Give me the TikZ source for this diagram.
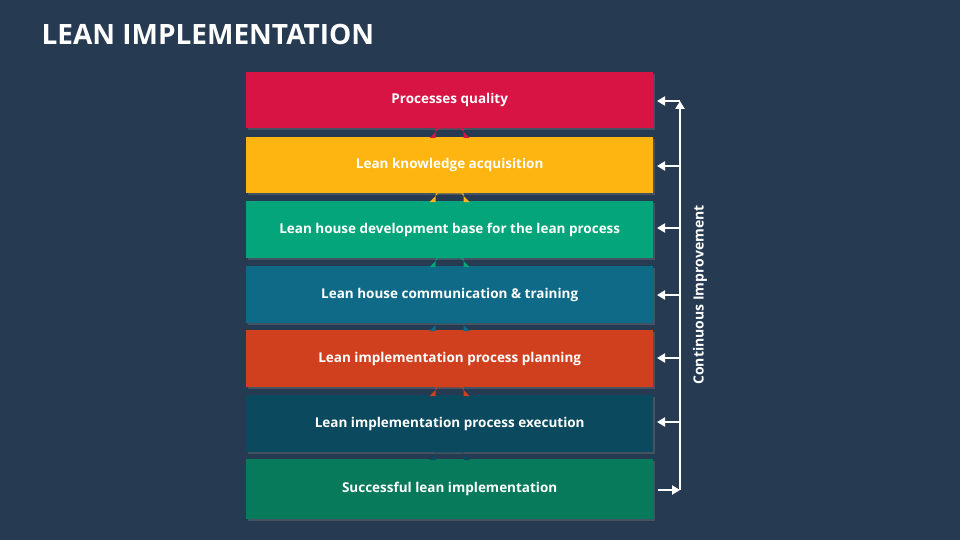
\documentclass[tikz,border=0pt]{standalone}
\usepackage{fontspec}
\setmainfont{Open Sans}
\usetikzlibrary{arrows.meta,shadows}
\definecolor{bg}{HTML}{263A52}
\definecolor{c1}{HTML}{D81444}
\definecolor{c2}{HTML}{FFB511}
\definecolor{c3}{HTML}{04A57A}
\definecolor{c4}{HTML}{0E6A87}
\definecolor{c5}{HTML}{D0401E}
\definecolor{c6}{HTML}{0B4A5E}
\definecolor{c7}{HTML}{087A5C}
\begin{document}
\begin{tikzpicture}[x=1pt,y=-1pt,
  barbox/.style={minimum width=407pt,inner sep=0pt,anchor=north west,text=white,font=\fontsize{13.5}{16}\selectfont\bfseries,drop shadow={shadow xshift=2pt,shadow yshift=-2pt,opacity=0.35}},
  wl/.style={white,line width=2.5pt},
  tip/.style={-{Triangle[length=8pt,width=9pt]}}]
\fill[bg] (0,0) rectangle (960,540);
\useasboundingbox (0,0) rectangle (960,540);
\node[anchor=west,text=white,font=\fontsize{28}{32}\selectfont\bfseries] (title) at (38,34) {LEAN IMPLEMENTATION};
\foreach \i/\t/\h/\c/\s in {1/72/56/c1/Processes quality,
  2/137/56/c2/Lean knowledge acquisition,
  3/201/57/c3/Lean house development base for the lean process,
  4/266/57/c4/Lean house communication \& training,
  5/330/57/c5/Lean implementation process planning,
  6/395/57/c6/Lean implementation process execution,
  7/459/60/c7/Successful lean implementation}{
  \node[barbox,fill=\c,minimum height=\h pt] (b\i) at (246,\t) {\s};
}
\foreach \i/\j/\c in {1/2/c1,2/3/c2,3/4/c3,4/5/c4,5/6/c5,6/7/c6}{
  \fill[\c] ([xshift=-14pt]b\i.south) -- ([xshift=14pt]b\i.south) -- ([xshift=14pt,yshift=-1pt]b\j.north)
    -- ([xshift=20pt,yshift=-1pt]b\j.north) -- ([yshift=19pt]b\j.north) -- ([xshift=-20pt,yshift=-1pt]b\j.north)
    -- ([xshift=-14pt,yshift=-1pt]b\j.north) -- cycle;
}
\coordinate (top) at (680,101);
\coordinate (bot) at (680,490);
\draw[wl,tip] (658,490) -- (bot);
\draw[wl,tip] (bot) -- (top);
\foreach \y in {101,166,228,295,358,422}{
  \coordinate (r\y) at (680,\y);
  \coordinate (l\y) at (657,\y);
  \draw[wl,tip] (r\y) -- (l\y);
}
\node[rotate=90,text=white,font=\fontsize{14}{16}\selectfont\bfseries] (ci) at (700,295) {Continuous Improvement};
\end{tikzpicture}
\end{document}
